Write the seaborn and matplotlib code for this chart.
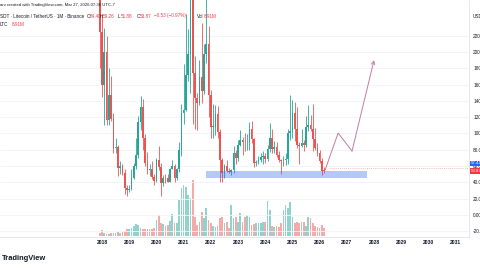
import matplotlib
matplotlib.use("Agg")
import matplotlib.pyplot as plt
from matplotlib.patches import Rectangle
import numpy as np
import pandas as pd
import seaborn as sns

sns.set_theme(style="white")
plt.rcParams["font.family"] = ["Liberation Sans", "DejaVu Sans"]

UP, DOWN = "#26a69a", "#ef5350"
VOL_UP, VOL_DOWN = "#92d2cc", "#f7a9a7"

# monthly LTC/USDT candles, Dec 2017 .. Mar 2026
months = pd.date_range("2017-12-01", periods=100, freq="MS")
opens = [300, 225, 160, 200, 117, 147, 118, 82, 84, 58, 60, 51, 33,
         31, 32, 46, 60, 74, 114, 133, 94, 64, 55, 57, 47,
         42, 67, 59, 39, 46, 45, 41, 57, 60, 46, 56, 80,
         125, 129, 172, 197, 271, 174, 143, 138, 169, 152, 197, 210,
         147, 108, 108, 124, 102, 67, 51, 60, 54, 53, 55, 76,
         70, 86, 92, 90, 89, 90, 106, 93, 64, 65, 68, 71,
         73, 69, 81, 95, 81, 84, 74, 68, 66, 68, 69, 100,
         103, 125, 106, 86, 85, 88, 86, 108, 111, 106, 93, 82,
         76, 66, 54.40]
highs = [375, 245, 230, 220, 180, 170, 125, 95, 86, 66, 62, 56, 37,
         37, 56, 64, 95, 122, 146, 142, 99, 77, 63, 66, 50,
         70, 85, 64, 49, 50, 50, 58, 67, 62, 58, 90, 136,
         185, 247, 228, 297, 413, 195, 150, 190, 236, 210, 296, 232,
         153, 136, 135, 134, 105, 70, 63, 68, 58, 57, 85, 80,
         92, 104, 96, 101, 99, 114, 115, 94, 68, 73, 76, 79,
         76, 86, 113, 106, 91, 89, 79, 69, 73, 76, 105, 147,
         141, 139, 133, 90, 106, 92, 121, 135, 123, 136, 107, 88,
         80, 70, 59.26]
lows = [180, 145, 110, 110, 110, 115, 76, 76, 48, 50, 49, 26, 23,
        28, 31, 44, 56, 70, 104, 80, 60, 50, 48, 44, 37,
        40, 55, 23, 36, 39, 40, 40, 56, 41, 43, 53, 72,
        112, 128, 165, 150, 112, 105, 104, 135, 138, 148, 187, 120,
        95, 95, 98, 95, 40, 40, 46, 53, 51, 49, 51, 62,
        66, 85, 74, 78, 80, 80, 88, 59, 60, 62, 65, 63,
        64, 66, 77, 76, 76, 71, 65, 50, 60, 61, 63, 92,
        95, 91, 82, 63, 83, 79, 84, 103, 103, 79, 80, 72,
        64, 49, 51.88]
closes = [225, 160, 200, 117, 147, 118, 82, 84, 58, 60, 51, 33, 31,
          32, 46, 60, 74, 114, 133, 94, 64, 55, 57, 47, 42,
          67, 59, 39, 46, 45, 41, 57, 60, 46, 56, 80, 125,
          129, 172, 197, 271, 174, 143, 138, 169, 152, 197, 210, 147,
          108, 108, 124, 102, 67, 51, 60, 54, 53, 55, 76, 70,
          86, 92, 90, 89, 90, 106, 93, 64, 65, 68, 71, 73,
          69, 81, 95, 81, 84, 74, 68, 66, 68, 69, 100, 103,
          125, 106, 86, 85, 88, 86, 108, 111, 106, 93, 82, 76,
          66, 54.40, 53.87]
volumes = [10, 18, 8, 6, 6, 8, 10, 10, 12, 10, 12, 14, 22,
           20, 25, 30, 35, 33, 25, 20, 22, 20, 22, 20, 25,
           48, 63, 38, 35, 30, 32, 45, 65, 38, 40, 108, 143,
           153, 148, 123, 113, 168, 58, 33, 43, 73, 53, 83, 48,
           40, 30, 28, 30, 53, 58, 40, 43, 23, 93, 53, 58,
           43, 68, 43, 58, 63, 58, 33, 35, 38, 40, 38, 43,
           43, 105, 78, 30, 28, 30, 28, 38, 78, 93, 83, 103,
           58, 38, 43, 40, 43, 43, 30, 58, 53, 38, 30, 28,
           25, 33, 25]

# drawn path and zone
proj_t = [2026.2, 2026.68, 2027.19, 2028.0]
proj_p = [55.2, 100.6, 78.5, 190]
zone_t = (2021.82, 2027.74)
zone_p = (45.4, 54.0)

price_ticks = [-20, 0, 20, 40, 60, 80, 100, 120, 140, 160, 180, 200, 220]
year_ticks = list(range(2018, 2032))

t = np.asarray(months.year + (months.month - 1) / 12, dtype=float)
o, h, l, c = map(np.array, (opens, highs, lows, closes))
up = c >= o
cols = np.where(up, UP, DOWN)

fig = plt.figure(figsize=(4.8, 2.7), dpi=100)
pos = [0, 33 / 270, 469 / 480, 237 / 270]

# volume pane underneath
axv = fig.add_axes(pos)
axv.bar(t, volumes, width=0.72 / 12, color=np.where(up, VOL_UP, VOL_DOWN), lw=0)
axv.set_ylim(-3, 708)
axv.set_xlim(2014.25, 2031.49)
axv.axis("off")

ax = fig.add_axes(pos)
ax.patch.set_alpha(0)
ax.set_xlim(2014.25, 2031.49)
ax.set_ylim(-27, 263.8)
ax.grid(axis="y", color="#f0f3fa", lw=0.6)

ax.vlines(t, l, h, colors=cols, lw=0.6, zorder=2)
ax.bar(t, np.maximum(np.abs(c - o), 0.8), bottom=np.minimum(o, c), width=0.75 / 12,
       color=cols, lw=0, zorder=2)

ax.add_patch(Rectangle((zone_t[0], zone_p[0]), zone_t[1] - zone_t[0], zone_p[1] - zone_p[0],
                       color="#2962ff", alpha=0.35, lw=0, zorder=3))

path_col = "#c27ba0"
ax.plot(proj_t[:-1], proj_p[:-1], color=path_col, lw=0.7, zorder=4)
ax.annotate("", xy=(proj_t[-1], proj_p[-1]), xytext=(proj_t[-2], proj_p[-2]),
            arrowprops=dict(arrowstyle="->", color=path_col, lw=0.7, shrinkA=0, shrinkB=0,
                            mutation_scale=6), zorder=4)

ax.hlines(57.5, 2026.35, 2031.49, colors="#f2a3a3", linestyles=(0, (1, 1.5)), lw=0.6, zorder=3)

ax.set_yticks(price_ticks)
ax.set_yticklabels([f"{p:.2f}" for p in price_ticks], fontsize=3.4, color="#131722")
ax.yaxis.tick_right()
ax.tick_params(axis="y", length=0, pad=3)
ax.set_xticks(year_ticks)
ax.set_xticklabels([str(y) for y in year_ticks], fontsize=3.6, color="#131722", fontweight="bold")
ax.tick_params(axis="x", length=0, pad=2.5)

for s in ("top", "left"):
    ax.spines[s].set_visible(False)
for s in ("right", "bottom"):
    ax.spines[s].set_color("#e0e3eb")
    ax.spines[s].set_linewidth(0.6)

# price scale markers
fig.text(471 / 480, 1 - 163.5 / 270, "57.41", fontsize=3.2, color="white", va="center",
         bbox=dict(boxstyle="square,pad=0.12", fc="#2962ff", ec="none"))
fig.text(471 / 480, 1 - 171 / 270, "53.87", fontsize=3.2, color="white", va="center",
         bbox=dict(boxstyle="square,pad=0.12", fc="#f23645", ec="none"))
fig.text(473 / 480, 1 - 16 / 270, "USDT", fontsize=3.4, color="#131722", va="center")

# header legend
dark, red = "#131722", "#f23645"
fig.text(0, 1 - 5 / 270, "arv created with TradingView.com, Mar 27, 2026 07:36 UTC-7",
         fontsize=3.1, color=dark, va="center")
line2 = [(0, "SDT · Litecoin / TetherUS · 1M · Binance", dark),
         (87, "O", dark), (89.5, "54.40", red), (100, "H", dark), (103, "59.26", red),
         (118, "L", dark), (121, "51.88", red), (136.5, "C", dark), (139.5, "53.87", red),
         (154, "\u22120.53 (\u22120.97%)", red), (197, "Vol", dark), (204, "8.91M", red)]
for x, s, col in line2:
    fig.text(x / 480, 1 - 16 / 270, s, fontsize=3.3, color=col, va="center")
fig.text(0, 1 - 24 / 270, "LTC", fontsize=3.3, color=dark, va="center")
fig.text(12 / 480, 1 - 24 / 270, "8.91M", fontsize=3.3, color=red, va="center")

fig.text(2 / 480, 1 - 259 / 270, "TradingView", fontsize=5.4, fontweight="bold",
         color=dark, va="center")

fig.savefig("out.png", dpi=100, facecolor="white")
